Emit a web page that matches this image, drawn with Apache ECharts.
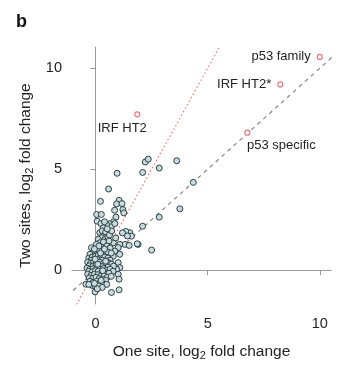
<!DOCTYPE html>
<html>
<head>
<meta charset="utf-8">
<script src="https://cdn.jsdelivr.net/npm/echarts@6/dist/echarts.min.js"></script>
<style>
  html, body { margin: 0; padding: 0; background: #fff; }
  #chart-container { width: 352px; height: 366px; }
</style>
</head>
<body>
<div id="chart-container"></div>
<script>
// one site vs two sites, log2 fold change
var sites = [
  [2.22, 5.36], [2.35, 5.5], [2.1, 4.84], [0.96, 4.8], [2.84, 5.06], [3.62, 5.42], [4.36, 4.35],
  [3.76, 3.04], [2.84, 2.63], [2.1, 2.18], [0.58, 4.02], [0.22, 3.41], [1.05, 3.46], [0.94, 3.28],
  [1.18, 3.3], [0.85, 2.97], [1.22, 3.0], [1.26, 2.84], [0.05, 2.76], [0.26, 2.76], [0.07, 2.43],
  [0.24, 2.31], [0.91, 2.63], [0.8, 2.4], [0.62, 2.3], [0.7, 2.15], [0.49, 2.27], [0.34, 2.1], [0.86, 2.31],
  [1.53, 1.86], [1.6, 1.69], [1.35, 1.92], [1.42, 1.7], [1.31, 1.28], [1.5, 1.23], [1.9, 1.28],
  [2.5, 1.0], [1.86, 1.31], [0.79, 1.36], [1.08, 1.28], [1.01, 1.12], [0.86, 0.95], [1.08, 0.79],
  [0.79, 0.7], [1.01, 0.38], [1.08, 0.13], [0.94, 0.05], [1.01, -0.2], [1.05, -0.44], [0.71, -1.1],
  [1.05, -0.97], [-0.43, -0.69], [-0.02, -1.07],
  [0.19, 1.86], [0.34, 1.77], [0.27, 1.61], [0.42, 1.53], [0.12, 1.53], [0.19, 1.36], [0.04, 1.28],
  [0.3, 1.95], [0.45, 1.9], [0.55, 1.65], [0.6, 1.45], [0.35, 1.4], [0.5, 1.2], [0.65, 1.1], [0.25, 1.15],
  [-0.18, 1.12], [-0.11, 0.87], [0.04, 0.95], [-0.25, 0.79], [0.15, 1.0], [0.38, 0.95], [0.55, 0.9], [0.7, 0.85],
  [-0.3, 0.6], [-0.15, 0.65], [0.0, 0.7], [0.12, 0.75], [0.25, 0.7], [0.4, 0.65], [0.55, 0.6], [0.65, 0.5],
  [-0.2, 0.5], [0.08, 0.55], [0.3, 0.5], [0.48, 0.45],
  [-0.35, 0.4], [-0.22, 0.35], [-0.08, 0.42], [0.05, 0.38], [0.18, 0.4], [0.32, 0.3], [0.45, 0.28],
  [0.6, 0.35], [0.72, 0.3], [-0.28, 0.22], [-0.12, 0.2], [0.02, 0.25], [0.15, 0.22], [0.28, 0.18],
  [0.55, 0.15], [0.8, 0.2],
  [-0.38, 0.1], [-0.25, 0.05], [-0.1, 0.08], [0.05, 0.1], [0.2, 0.05], [0.35, 0.08], [0.5, 0.0],
  [0.65, 0.05], [0.78, -0.05], [-0.3, -0.05], [-0.15, -0.08], [0.0, -0.02], [0.12, -0.05], [0.28, -0.1],
  [0.42, -0.12], [0.6, -0.15],
  [-0.35, -0.2], [-0.2, -0.25], [-0.05, -0.2], [0.1, -0.22], [0.22, -0.3], [0.38, -0.28], [0.52, -0.35],
  [0.7, -0.3], [-0.28, -0.38], [-0.12, -0.4], [0.02, -0.35], [0.16, -0.42], [0.3, -0.45], [0.45, -0.5],
  [-0.25, -0.55], [-0.1, -0.6], [0.05, -0.55], [0.2, -0.62], [0.35, -0.68], [0.5, -0.7], [-0.15, -0.75],
  [0.0, -0.8], [0.15, -0.78], [0.3, -0.85], [-0.3, -0.7], [0.08, -0.92], [-0.05, -0.65], [0.25, -0.5],
  [0.1, 0.3], [-0.02, 0.55], [0.22, 0.85], [0.4, 1.05], [0.15, 1.2], [-0.05, 1.05], [0.32, -0.02], [0.45, 0.45],
  [0.62, 1.75], [0.72, 1.95], [0.52, 2.05], [0.4, 2.4], [0.9, 1.6], [1.2, 1.85]
];

var highlightNames = ['p53 family', 'IRF HT2*', 'p53 specific', 'IRF HT2'];
var highlightX = [10.0, 8.24, 6.77, 1.86];
var highlightY = [10.56, 9.2, 6.81, 7.72];

var xTicks = [0, 5, 10];
var yTicks = [0, 5, 10];

var identityLine = [[-1, -1], [10.6, 10.6]];
var doubleLine = [[-0.85, -1.7], [5.55, 11.1]];

var font = 'Liberation Sans, Arial, sans-serif';

var labelSpots = {
  'p53 family': { position: 'left', distance: 6 },
  'IRF HT2*': { position: 'left', distance: 6 },
  'p53 specific': { position: 'bottom', offset: [34, -2] },
  'IRF HT2': { position: 'bottom', offset: [-15, 0] }
};

var highlightData = highlightNames.map(function (n, i) {
  var spot = labelSpots[n];
  return {
    value: [highlightX[i], highlightY[i]],
    label: Object.assign({ show: true, formatter: n }, spot)
  };
});

var dom = document.getElementById('chart-container');
var myChart = echarts.init(dom, null, { renderer: 'canvas' });

var nameStyle = {
  fontSize: 15.5, color: '#222',
  rich: { sub: { fontSize: 11, verticalAlign: 'bottom', padding: [8, 0, 0, 0] } }
};

var option = {
  animation: false,
  textStyle: { fontFamily: font },
  title: {
    text: 'b',
    left: 16,
    top: 13,
    padding: 0,
    textStyle: { fontSize: 18, fontWeight: 'bold', color: '#111', fontFamily: font }
  },
  grid: { left: 72, right: 21, top: 47, bottom: 61 },
  xAxis: {
    type: 'value',
    min: -1.05,
    max: 10.5,
    name: 'One site, log{sub|2} fold change',
    nameLocation: 'middle',
    nameGap: 38,
    nameTextStyle: nameStyle,
    splitLine: { show: false },
    axisLine: { lineStyle: { color: '#999', width: 1 } },
    axisTick: { customValues: xTicks, length: 5, lineStyle: { color: '#999' } },
    axisLabel: { customValues: xTicks, fontSize: 14.5, color: '#222', margin: 12 }
  },
  yAxis: {
    type: 'value',
    min: -1.67,
    max: 11.05,
    name: 'Two sites, log{sub|2} fold change',
    nameLocation: 'middle',
    nameGap: 37,
    nameTextStyle: nameStyle,
    splitLine: { show: false },
    axisLine: { show: true, lineStyle: { color: '#999', width: 1 } },
    axisTick: { show: true, customValues: yTicks, length: 5, lineStyle: { color: '#999' } },
    axisLabel: { customValues: yTicks, fontSize: 14.5, color: '#222', margin: 10 }
  },
  series: [
    {
      type: 'line',
      data: identityLine,
      symbol: 'none',
      lineStyle: { color: '#888', width: 1.2, type: [4, 4] },
      z: 1
    },
    {
      type: 'line',
      data: doubleLine,
      symbol: 'none',
      lineStyle: { color: '#f07070', width: 1.2, type: [1.5, 2.5] },
      z: 1
    },
    {
      type: 'scatter',
      data: sites,
      symbolSize: 6,
      itemStyle: { color: '#c7dcdf', borderColor: '#2e3d40', borderWidth: 1, opacity: 1 },
      z: 3
    },
    {
      type: 'scatter',
      data: highlightData,
      symbolSize: 5,
      itemStyle: { color: '#fff', borderColor: '#e07b80', borderWidth: 1.2, opacity: 1 },
      label: { fontSize: 13, color: '#222', fontFamily: font },
      z: 4
    }
  ]
};

myChart.setOption(option);
window.addEventListener('resize', myChart.resize);
</script>
</body>
</html>
